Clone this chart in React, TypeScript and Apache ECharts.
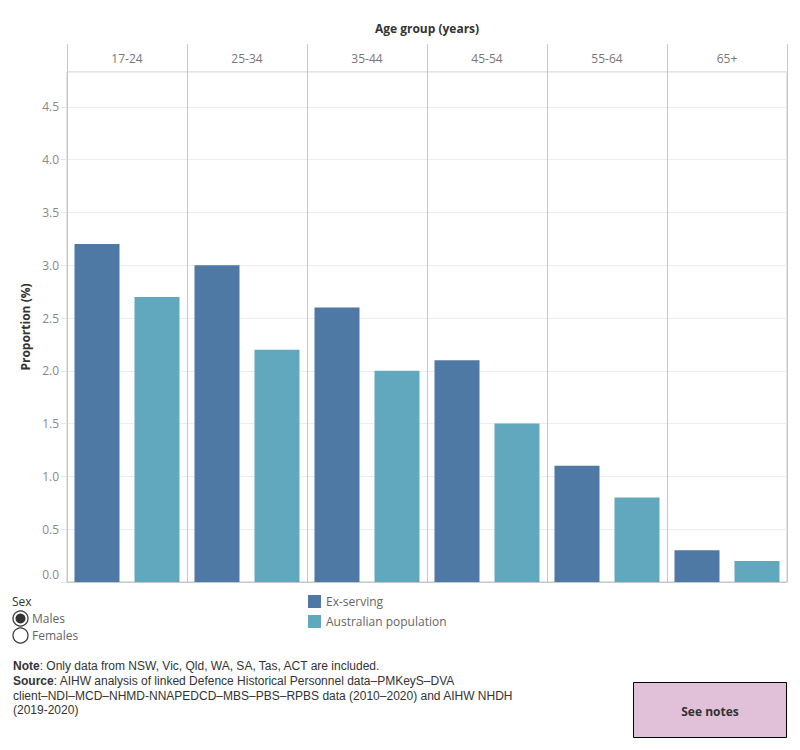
import React, { useEffect, useRef } from "react";
import * as echarts from "echarts";

// Age groups shown as column panels across the top
const ageGroups = ["17-24", "25-34", "35-44", "45-54", "55-64", "65+"];
// Proportion (%) by age group, males
const exServing = [3.2, 3.0, 2.6, 2.1, 1.1, 0.3];
const australianPopulation = [2.7, 2.2, 2.0, 1.5, 0.8, 0.2];
const seriesNames = ["Ex-serving", "Australian population"];
const sexOptions = ["Males", "Females"];
const noteLines = [
  "{b|Note}: Only data from NSW, Vic, Qld, WA, SA, Tas, ACT are included.",
  "{b|Source}: AIHW analysis of linked Defence Historical Personnel data\u2013PMKeyS\u2013DVA",
  "client\u2013NDI\u2013MCD\u2013NHMD-NNAPEDCD\u2013MBS\u2013PBS\u2013RPBS data (2010\u20132020) and AIHW NHDH",
  "(2019-2020)",
];

const FONT = "'Open Sans', 'Noto Sans', sans-serif";
const ARIAL = "'Liberation Sans', Arial, sans-serif";
const LINE = "#c8c8c8";

export default function App() {
  const ref = useRef<HTMLDivElement>(null);

  useEffect(() => {
    if (!ref.current) return;
    const chart = echarts.init(ref.current, null, { renderer: "svg" });

    const option: echarts.EChartsOption = {
      animation: false,
      backgroundColor: "#ffffff",
      textStyle: { fontFamily: FONT },
      grid: [
        {
          left: 67,
          right: 13,
          top: 72,
          bottom: 168,
          show: true,
          borderColor: LINE,
          borderWidth: 1,
        },
        { left: 67, right: 13, top: 44, height: 28, show: false },
      ],
      xAxis: [
        {
          type: "category",
          gridIndex: 0,
          data: ageGroups,
          axisLine: { show: true, lineStyle: { color: LINE } },
          axisTick: { show: false },
          axisLabel: { show: false },
          splitLine: { show: true, lineStyle: { color: LINE, width: 1 } },
        },
        {
          type: "category",
          gridIndex: 1,
          data: ageGroups,
          position: "bottom",
          axisLine: { show: false },
          axisTick: { show: false },
          axisLabel: {
            show: true,
            inside: true,
            margin: 8,
            color: "#777777",
            fontSize: 12,
            fontFamily: FONT,
          },
          splitLine: { show: true, lineStyle: { color: LINE, width: 1 } },
        },
      ],
      yAxis: [
        {
          type: "value",
          gridIndex: 0,
          min: 0,
          max: 4.83,
          interval: 0.5,
          name: "Proportion (%)",
          nameLocation: "middle",
          nameGap: 30,
          nameTextStyle: {
            color: "#333333",
            fontSize: 12,
            fontWeight: "bold",
            fontFamily: FONT,
          },
          axisLine: { show: true, lineStyle: { color: LINE } },
          axisTick: { show: true, length: 6, lineStyle: { color: "#e6e6e6" } },
          axisLabel: {
            color: "#888888",
            fontSize: 12,
            fontFamily: FONT,
            margin: 8,
            showMaxLabel: false,
            formatter: (v: number) =>
              v === 0 ? "{z|0.0}" : v.toFixed(1),
            rich: {
              z: {
                color: "#888888",
                fontSize: 12,
                fontFamily: FONT,
                padding: [0, 0, 16, 0],
              },
            },
          },
          splitLine: { show: true, lineStyle: { color: "#ececec", width: 1 } },
        },
        {
          type: "value",
          gridIndex: 1,
          show: false,
          splitLine: { show: false },
        },
      ],
      legend: {
        data: seriesNames,
        orient: "vertical",
        left: 303,
        top: 590,
        icon: "rect",
        itemWidth: 13,
        itemHeight: 13,
        itemGap: 7,
        selectedMode: false,
        textStyle: { color: "#666666", fontSize: 12, fontFamily: FONT },
      },
      series: [
        {
          name: seriesNames[0],
          type: "bar",
          xAxisIndex: 0,
          yAxisIndex: 0,
          data: exServing,
          barWidth: 45,
          barGap: "33.3%",
          itemStyle: { color: "#4e79a5" },
        },
        {
          name: seriesNames[1],
          type: "bar",
          xAxisIndex: 0,
          yAxisIndex: 0,
          data: australianPopulation,
          barWidth: 45,
          barGap: "33.3%",
          itemStyle: { color: "#61a8bf" },
        },
      ],
      graphic: [
        {
          type: "text",
          x: 427,
          y: 28,
          style: {
            text: "Age group (years)",
            fill: "#333333",
            fontSize: 12,
            fontWeight: "bold",
            fontFamily: FONT,
            align: "center",
            verticalAlign: "middle",
          },
        },
        // Sex filter control
        {
          type: "text",
          x: 12,
          y: 601,
          style: {
            text: "Sex",
            fill: "#333333",
            fontSize: 12,
            fontFamily: FONT,
            verticalAlign: "middle",
          },
        },
        {
          type: "circle",
          shape: { cx: 20.5, cy: 618.5, r: 7.5 },
          style: { fill: "#ffffff", stroke: "#333333", lineWidth: 1.2 },
        },
        {
          type: "circle",
          shape: { cx: 20.5, cy: 618.5, r: 5 },
          style: { fill: "#333333" },
        },
        {
          type: "circle",
          shape: { cx: 20.5, cy: 635.5, r: 7.5 },
          style: { fill: "#ffffff", stroke: "#333333", lineWidth: 1.2 },
        },
        {
          type: "text",
          x: 32,
          y: 618,
          style: {
            text: sexOptions[0],
            fill: "#666666",
            fontSize: 12,
            fontFamily: FONT,
            verticalAlign: "middle",
          },
        },
        {
          type: "text",
          x: 32,
          y: 635,
          style: {
            text: sexOptions[1],
            fill: "#666666",
            fontSize: 12,
            fontFamily: FONT,
            verticalAlign: "middle",
          },
        },
        // Notes and source
        {
          type: "text",
          x: 13,
          y: 659,
          style: {
            text: noteLines.join("\n"),
            fill: "#333333",
            fontSize: 12,
            fontFamily: ARIAL,
            lineHeight: 14.7,
            rich: {
              b: {
                fontWeight: "bold",
                fontSize: 12,
                fontFamily: ARIAL,
                fill: "#333333",
                lineHeight: 14.7,
              },
            },
          },
        },
        // "See notes" button
        {
          type: "rect",
          shape: { x: 633.5, y: 682.5, width: 153, height: 55 },
          style: { fill: "#e1c1d9", stroke: "#000000", lineWidth: 1 },
        },
        {
          type: "text",
          x: 710,
          y: 711,
          style: {
            text: "See notes",
            fill: "#333333",
            fontSize: 12,
            fontWeight: "bold",
            fontFamily: FONT,
            align: "center",
            verticalAlign: "middle",
          },
        },
      ],
    };

    chart.setOption(option);
    return () => chart.dispose();
  }, []);

  return (
    <div
      ref={ref}
      style={{ position: "fixed", left: 0, top: 0, width: 800, height: 750 }}
    />
  );
}
